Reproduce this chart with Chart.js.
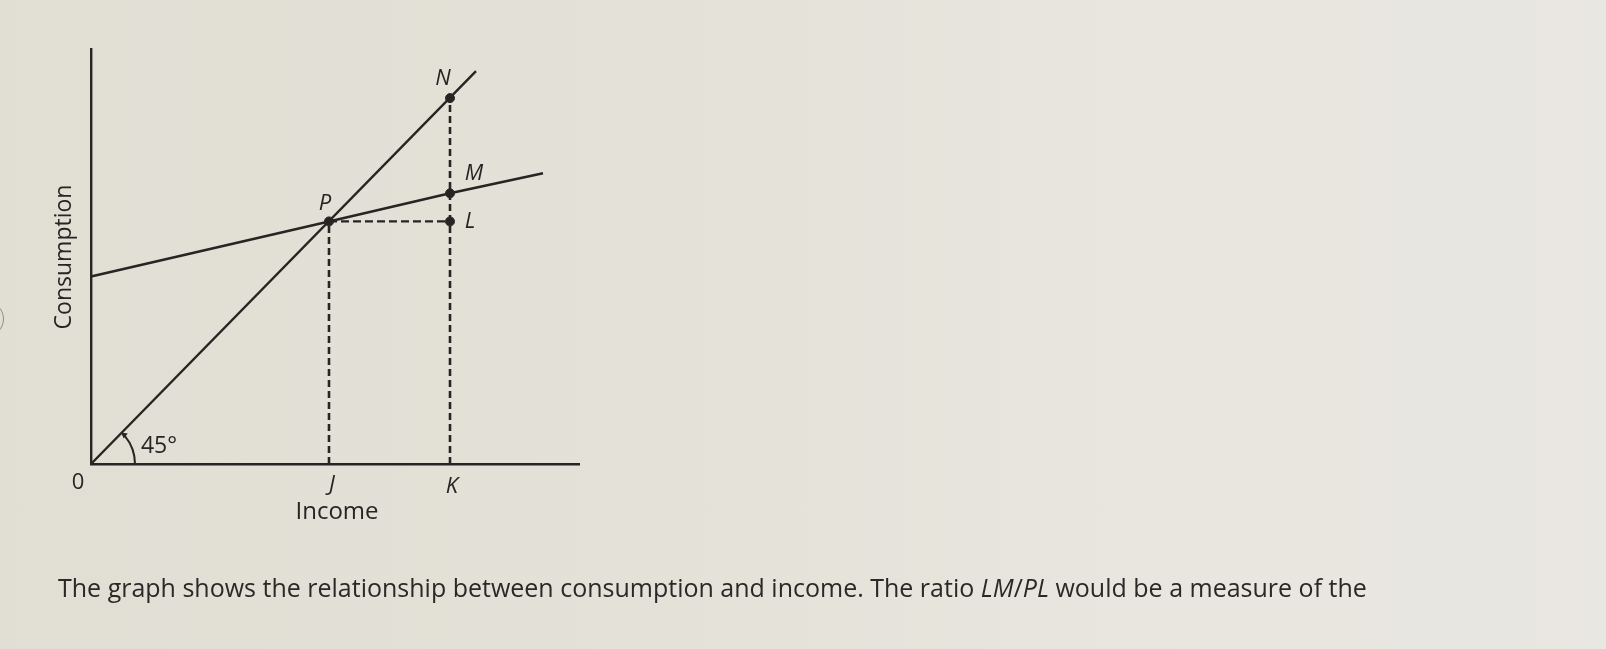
<!DOCTYPE html>
<html>
<head>
<meta charset="utf-8">
<script src="https://cdn.jsdelivr.net/npm/chart.js@4"></script>
<style>
  html, body { margin: 0; padding: 0; }
  body {
    width: 1606px; height: 649px; overflow: hidden; position: relative;
    background: linear-gradient(90deg, #e1ded4 0%, #e4e1d8 40%, #e8e6df 75%, #e9e7e1 100%);
    font-family: "Open Sans", sans-serif;
  }
  #wrap { position: absolute; left: 0; top: 0; width: 1606px; height: 649px; }
  #caption {
    position: absolute; left: 58px; top: 570px; margin: 0;
    font-size: 25px; line-height: 34px; color: #2a2927; white-space: nowrap;
  }
  #radio {
    position: absolute; left: -32px; top: 301px; width: 34px; height: 34px;
    border: 1.5px solid #8f8c85; border-radius: 50%;
  }
</style>
</head>
<body>
<div id="wrap"><canvas id="myChart"></canvas></div>
<div id="radio"></div>
<p id="caption">The graph shows the relationship between consumption and income. The ratio <i>LM</i>/<i>PL</i> would be a measure of the</p>
<script>
// Values (income and consumption in the same units)
let incomeJ = 238;
let incomeK = 359;
let line45 = [{x: 0, y: 0}, {x: 385, y: 392}];
let consumption = [{x: 0, y: 187}, {x: 238, y: 242}, {x: 359, y: 270}, {x: 452, y: 290}];
let pointP = {x: 238, y: 242};
let pointN = {x: 359, y: 365};
let pointM = {x: 359, y: 270};
let pointL = {x: 359, y: 242};
let xMax = 488;
let yMax = 414;

const ink = '#262523';

// Text labels and the 45 degree arc
const labelsPlugin = {
    id: 'labels',
    afterDatasetsDraw(chart) {
        const c = chart.ctx;
        const xs = chart.scales.x;
        const ys = chart.scales.y;
        const px = v => xs.getPixelForValue(v);
        const py = v => ys.getPixelForValue(v);
        c.save();
        c.fillStyle = ink;
        c.textAlign = 'center';
        c.textBaseline = 'middle';

        c.font = 'italic 22px "Open Sans"';
        c.fillText('N', px(pointN.x) - 7, py(pointN.y) - 19);
        c.fillText('M', px(pointM.x) + 24, py(pointM.y) - 20);
        c.fillText('L', px(pointL.x) + 20, py(pointL.y));
        c.fillText('P', px(pointP.x) - 4, py(pointP.y) - 18);
        c.fillText('J', px(incomeJ) + 3, py(0) + 21);
        c.fillText('K', px(incomeK) + 2, py(0) + 23);

        c.font = '22px "Open Sans"';
        c.fillText('0', px(0) - 13, py(0) + 19);
        c.font = '23px "Open Sans"';
        c.fillText('45°', px(0) + 68, py(0) - 18);
        c.font = '24px "Open Sans"';
        c.fillText('Income', px(incomeJ) + 8, py(0) + 48);

        c.save();
        c.font = '23px "Open Sans"';
        c.translate(px(0) - 27, 257);
        c.rotate(-Math.PI / 2);
        c.fillText('Consumption', 0, 0);
        c.restore();

        // arc marking the 45 degree angle
        const ox = px(0), oy = py(0), r = 44;
        const ang = Math.atan2(py(0) - py(line45[1].y), px(line45[1].x) - px(0));
        c.strokeStyle = ink;
        c.lineWidth = 2;
        c.beginPath();
        c.arc(ox, oy, r, -ang + 0.1, 0);
        c.stroke();
        // small arrow head where the arc meets the diagonal
        const ax = ox + r * Math.cos(ang), ay = oy - r * Math.sin(ang);
        c.beginPath();
        c.moveTo(ax - 1, ay);
        c.lineTo(ax + 6, ay + 1);
        c.lineTo(ax + 2, ay + 6);
        c.closePath();
        c.fill();
        c.restore();
    }
};

const ctx = document.getElementById('myChart').getContext('2d');
const myChart = new Chart(ctx, {
    type: 'scatter',
    data: {
        datasets: [
            {
                label: '45 degree line',
                data: line45,
                showLine: true,
                borderColor: ink,
                borderWidth: 2.4,
                pointRadius: 0
            },
            {
                label: 'Consumption',
                data: consumption,
                showLine: true,
                borderColor: ink,
                borderWidth: 2.6,
                pointRadius: 0
            },
            {
                label: 'J dashes',
                data: [{x: incomeJ, y: 0}, pointP],
                showLine: true,
                borderColor: ink,
                borderWidth: 2.6,
                borderDash: [7, 4],
                pointRadius: 0
            },
            {
                label: 'K dashes',
                data: [{x: incomeK, y: 0}, pointN],
                showLine: true,
                borderColor: ink,
                borderWidth: 2.6,
                borderDash: [7, 4],
                pointRadius: 0
            },
            {
                label: 'PL dashes',
                data: [pointP, pointL],
                showLine: true,
                borderColor: ink,
                borderWidth: 2.4,
                borderDash: [8, 4],
                pointRadius: 0
            },
            {
                label: 'Points',
                data: [pointP, pointN, pointM, pointL],
                pointRadius: 4.5,
                pointBackgroundColor: ink,
                pointBorderColor: ink
            }
        ]
    },
    options: {
        responsive: true,
        maintainAspectRatio: false,
        animation: false,
        clip: false,
        layout: {
            padding: {left: 91, top: 49, right: 1027, bottom: 185}
        },
        plugins: {
            legend: {display: false},
            tooltip: {enabled: false}
        },
        scales: {
            x: {
                type: 'linear',
                min: 0,
                max: xMax,
                ticks: {display: false},
                grid: {display: false, drawTicks: false},
                border: {display: true, color: ink, width: 2.4}
            },
            y: {
                type: 'linear',
                min: 0,
                max: yMax,
                ticks: {display: false},
                grid: {display: false, drawTicks: false},
                border: {display: true, color: ink, width: 2.4}
            }
        }
    },
    plugins: [labelsPlugin]
});
</script>
</body>
</html>
